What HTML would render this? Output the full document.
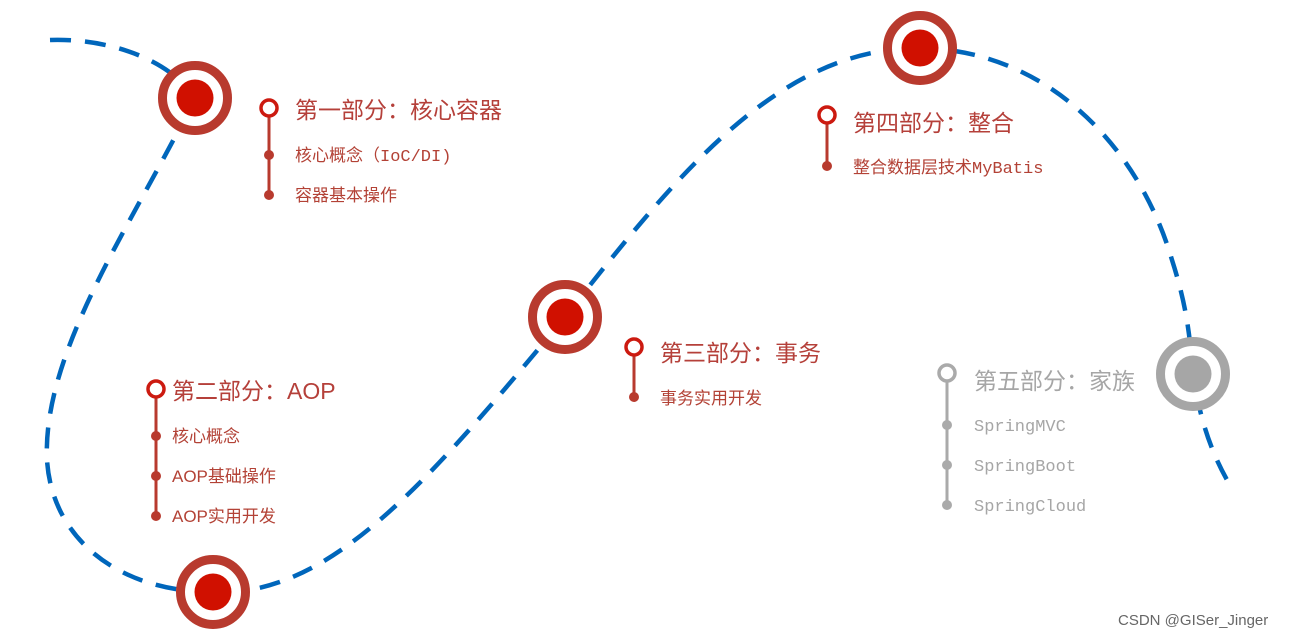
<!DOCTYPE html>
<html><head><meta charset="utf-8"><style>
html,body{margin:0;padding:0;background:#fff;}
svg text{font-family:"Liberation Sans","Noto Sans CJK SC",sans-serif;}
.t{font-size:23px;fill:#b5403a;}
.i{font-size:17px;fill:#b34236;}
.m{font-family:"Liberation Mono","Noto Sans CJK SC",monospace !important;}
.g{fill:#a6a6a6;}
</style></head><body>
<svg width="1297" height="638" viewBox="0 0 1297 638" xmlns="http://www.w3.org/2000/svg">
<path d="M50,40 C110,38 170,60 195,98 C135,220 42,350 47,460 C52,540 120,592 213,592 C330,598 430,480 565,317 C680,170 780,48 920,48 C1050,50 1140,150 1172,260 C1188,310 1190,340 1193,375 C1200,420 1212,455 1230,485" fill="none" stroke="#0066bb" stroke-width="4.5" stroke-dasharray="21 14"/>
<g>
<circle cx="195" cy="98" r="32.5" fill="#fff" stroke="#b83a2e" stroke-width="9"/><circle cx="195" cy="98" r="18.5" fill="#d01000"/>
<circle cx="213" cy="592" r="32.5" fill="#fff" stroke="#b83a2e" stroke-width="9"/><circle cx="213" cy="592" r="18.5" fill="#d01000"/>
<circle cx="565" cy="317" r="32.5" fill="#fff" stroke="#b83a2e" stroke-width="9"/><circle cx="565" cy="317" r="18.5" fill="#d01000"/>
<circle cx="920" cy="48" r="32.5" fill="#fff" stroke="#b83a2e" stroke-width="9"/><circle cx="920" cy="48" r="18.5" fill="#d01000"/>
<circle cx="1193" cy="374" r="32.5" fill="#fff" stroke="#a6a6a6" stroke-width="9"/><circle cx="1193" cy="374" r="18.5" fill="#a6a6a6"/>
</g>
<line x1="269" y1="108" x2="269" y2="195" stroke="#b83a2e" stroke-width="3"/>
<circle cx="269" cy="108" r="8" fill="#fff" stroke="#cc1a10" stroke-width="3.5"/>
<circle cx="269" cy="155" r="5" fill="#b83a2e"/><circle cx="269" cy="195" r="5" fill="#b83a2e"/>
<text x="295" y="118" class="t">第一部分：核心容器</text>
<text x="295" y="161" class="i m">核心概念（IoC/DI)</text>
<text x="295" y="201" class="i">容器基本操作</text>
<line x1="156" y1="389" x2="156" y2="516" stroke="#b83a2e" stroke-width="3"/>
<circle cx="156" cy="389" r="8" fill="#fff" stroke="#cc1a10" stroke-width="3.5"/>
<circle cx="156" cy="436" r="5" fill="#b83a2e"/><circle cx="156" cy="476" r="5" fill="#b83a2e"/><circle cx="156" cy="516" r="5" fill="#b83a2e"/>
<text x="172" y="399" class="t">第二部分：AOP</text>
<text x="172" y="442" class="i">核心概念</text>
<text x="172" y="482" class="i">AOP基础操作</text>
<text x="172" y="522" class="i">AOP实用开发</text>
<line x1="634" y1="347" x2="634" y2="397" stroke="#b83a2e" stroke-width="3"/>
<circle cx="634" cy="347" r="8" fill="#fff" stroke="#cc1a10" stroke-width="3.5"/>
<circle cx="634" cy="397" r="5" fill="#b83a2e"/>
<text x="660" y="361" class="t">第三部分：事务</text>
<text x="660" y="404" class="i">事务实用开发</text>
<line x1="827" y1="115" x2="827" y2="166" stroke="#b83a2e" stroke-width="3"/>
<circle cx="827" cy="115" r="8" fill="#fff" stroke="#cc1a10" stroke-width="3.5"/>
<circle cx="827" cy="166" r="5" fill="#b83a2e"/>
<text x="853" y="131" class="t">第四部分：整合</text>
<text x="853" y="173" class="i m">整合数据层技术MyBatis</text>
<line x1="947" y1="373" x2="947" y2="505" stroke="#aaaaaa" stroke-width="3"/>
<circle cx="947" cy="373" r="8" fill="#fff" stroke="#aaaaaa" stroke-width="3.5"/>
<circle cx="947" cy="425" r="5" fill="#aaaaaa"/><circle cx="947" cy="465" r="5" fill="#aaaaaa"/><circle cx="947" cy="505" r="5" fill="#aaaaaa"/>
<text x="974" y="389" class="t g">第五部分：家族</text>
<text x="974" y="431" class="i m g">SpringMVC</text>
<text x="974" y="471" class="i m g">SpringBoot</text>
<text x="974" y="511" class="i m g">SpringCloud</text>
<text x="1118" y="625" style="font-size:15px;fill:#666;">CSDN @GISer_Jinger</text>
</svg>
</body></html>
